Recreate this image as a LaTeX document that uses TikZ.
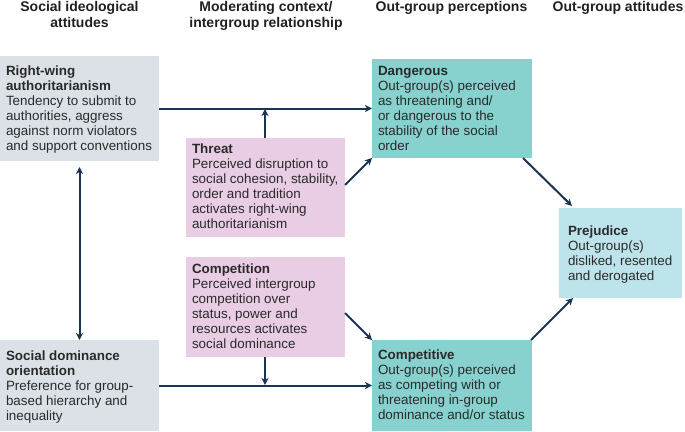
\documentclass[tikz,border=0pt]{standalone}
\usepackage{fontspec}
\setmainfont{Liberation Sans}
\usetikzlibrary{arrows.meta,calc}
\definecolor{boxgray}{HTML}{DCE1E7}
\definecolor{boxpink}{HTML}{E8CDE4}
\definecolor{boxteal}{HTML}{87D1CE}
\definecolor{boxblue}{HTML}{BEE4EB}
\definecolor{arrowcol}{HTML}{1C3454}
\definecolor{txtcol}{HTML}{2A2A2A}
\definecolor{headcol}{HTML}{231F20}
\tikzset{
  box/.style={draw=none, inner sep=0pt, outer sep=0pt, anchor=north west},
  txt/.style={inner sep=0pt, outer sep=0pt, anchor=north west, align=left,
    text=txtcol, font=\fontsize{13.4}{15}\selectfont},
  head/.style={inner sep=0pt, outer sep=0pt, anchor=north, align=center,
    text=headcol, font=\fontsize{14}{16}\selectfont\bfseries},
  conn/.style={draw=arrowcol, line width=2pt, -{Stealth[length=7pt,width=7pt,inset=2pt]}},
  plain/.style={draw=arrowcol, line width=2pt},
}
\begin{document}
\begin{tikzpicture}[x=1pt,y=-1pt]
\useasboundingbox (0,0) rectangle (685,431);
% headers
\node[head] (h1) at (79.5,1.5) {Social ideological\\attitudes};
\node[head] (h2) at (266,1.5) {Moderating context/\\intergroup relationship};
\node[head] (h3) at (451.5,1.5) {Out-group perceptions};
\node[head] (h4) at (618,1.5) {Out-group attitudes};
% boxes
\node[box, fill=boxgray, minimum width=159pt, minimum height=105pt] (rwa) at (0,56) {};
\node[box, fill=boxgray, minimum width=159pt, minimum height=91pt] (sdo) at (0,340) {};
\node[box, fill=boxpink, minimum width=159pt, minimum height=99pt] (threat) at (186,138) {};
\node[box, fill=boxpink, minimum width=159pt, minimum height=100pt] (comp) at (186,257) {};
\node[box, fill=boxteal, minimum width=160pt, minimum height=99pt] (dang) at (372,59) {};
\node[box, fill=boxteal, minimum width=160pt, minimum height=91pt] (compv) at (372,340) {};
\node[box, fill=boxblue, minimum width=123pt, minimum height=90pt] (prej) at (559,208) {};
% texts
\node[txt] (trwa) at (6,66) {\textbf{Right-wing}\\\textbf{authoritarianism}\\Tendency to submit to\\authorities, aggress\\against norm violators\\and support conventions};
\node[txt] (tthreat) at (192,143.5) {\textbf{Threat}\\Perceived disruption to\\social cohesion, stability,\\order and tradition\\activates right-wing\\authoritarianism};
\node[txt] (tcomp) at (192,263.7) {\textbf{Competition}\\Perceived intergroup\\competition over\\status, power and\\resources activates\\social dominance};
\node[txt] (tsdo) at (6,350.4) {\textbf{Social dominance}\\\textbf{orientation}\\Preference for group-\\based hierarchy and\\inequality};
\node[txt] (tdang) at (378,66) {\textbf{Dangerous}\\Out-group(s) perceived\\as threatening and/\\or dangerous to the\\stability of the social\\order};
\node[txt] (tcompv) at (378,350) {\textbf{Competitive}\\Out-group(s) perceived\\as competing with or\\threatening in-group\\dominance and/or status};
\node[txt] (tprej) at (568,226) {\textbf{Prejudice}\\Out-group(s)\\disliked, resented\\and derogated};
% junctions
\coordinate (j1) at (265,109);
\coordinate (j2) at (265,385);
% connectors
\draw[conn] (rwa.east) -- (dang.west);
\draw[conn] (threat.north -| j1) -- (j1);
\draw[conn] ($(threat.east)+(0,-2.5)$) -- (dang.south west);
\draw[conn] ($(comp.east)+(0,6)$) -- (compv.north west);
\draw[conn] (sdo.east) -- (compv.west);
\draw[conn] (comp.south -| j2) -- (j2);
\draw[plain, {Stealth[length=7pt,width=7pt,inset=2pt]}-{Stealth[length=7pt,width=7pt,inset=2pt]}, shorten <=6pt] (rwa.south) -- (sdo.north);
\draw[conn] ($(dang.south east)+(-9,0)$) -- ($(prej.north west)+(13,-2)$);
\draw[conn] ($(compv.north east)+(-1,0)$) -- ($(prej.south west)+(14,0)$);
\end{tikzpicture}
\end{document}
